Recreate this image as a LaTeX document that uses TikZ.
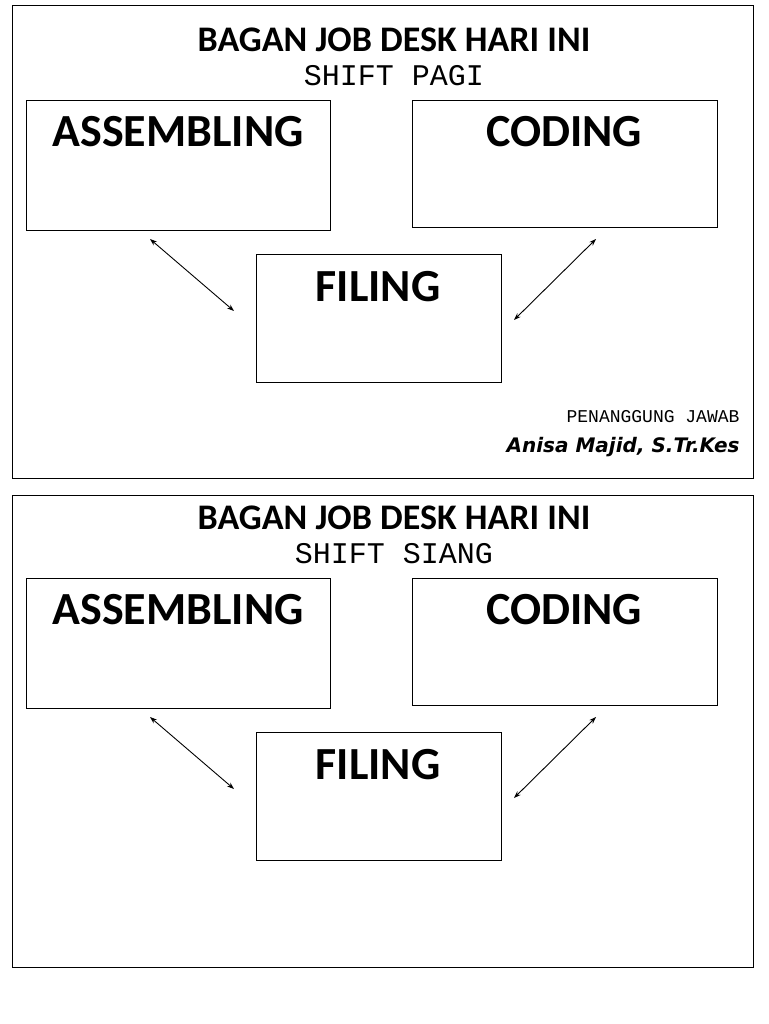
\documentclass[tikz,border=0pt]{standalone}
\usepackage{fontspec}
\setmainfont{Carlito}
\newfontfamily\monof{Liberation Mono}
\newfontfamily\sigf{DejaVu Sans}
\usetikzlibrary{arrows.meta}
\begin{document}
\begin{tikzpicture}[x=1pt,y=-1pt,
  frame/.style={draw,line width=0.8pt},
  jobbox/.style={draw,line width=0.8pt},
  jobtxt/.style={font=\bfseries\fontsize{46}{48}\selectfont},
  ttl/.style={font=\bfseries\fontsize{36}{38}\selectfont},
  sub/.style={font=\monof\fontsize{30}{32}\selectfont},
  arr/.style={{Stealth[length=7pt,width=5pt]}-{Stealth[length=7pt,width=5pt]},line width=0.9pt}]
\useasboundingbox (0,0) rectangle (768,1024);
\draw[frame] (12,5) rectangle (753,478);
\draw[frame] (12,495) rectangle (753,967);
\foreach \o/\s/\n in {0/PAGI/a,478/SIANG/b}{
  \node[ttl] (t\n) at (394,40+\o) {BAGAN JOB DESK HARI INI};
  \node[sub] (s\n) at (394,76+\o) {SHIFT \s};
  \draw[jobbox] (26,100+\o) rectangle (330,230+\o);
  \node[jobtxt] (as\n) at (178,132+\o) {ASSEMBLING};
  \draw[jobbox] (412,100+\o) rectangle (717,227+\o);
  \node[jobtxt] (co\n) at (564,132+\o) {CODING};
  \draw[jobbox] (256,254+\o) rectangle (501,382+\o);
  \node[jobtxt] (fi\n) at (378,287+\o) {FILING};
  \coordinate (p1\n) at (150,239+\o);
  \coordinate (p2\n) at (234,311+\o);
  \coordinate (p3\n) at (596,239+\o);
  \coordinate (p4\n) at (514,320+\o);
  \draw[arr] (p1\n) -- (p2\n);
  \draw[arr] (p3\n) -- (p4\n);
}
\node[font=\monof\fontsize{18}{20}\selectfont,anchor=east] (pj) at (743,417) {PENANGGUNG JAWAB};
\node[font=\sigf\bfseries\itshape\fontsize{20}{22}\selectfont,anchor=east] (sig) at (743,447) {Anisa Majid, S.Tr.Kes};
\end{tikzpicture}
\end{document}
